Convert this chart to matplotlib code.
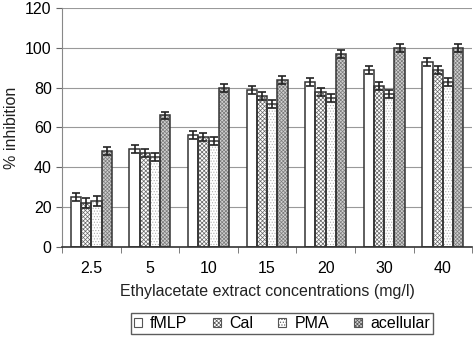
import numpy as np
import matplotlib
matplotlib.use("Agg")
import matplotlib.pyplot as plt

concentrations = ["2.5", "5", "10", "15", "20", "30", "40"]
fmlp = [25, 49, 56, 79, 83, 89, 93]
cal = [22, 47, 55, 76, 78, 81, 89]
pma = [23, 45, 53, 72, 75, 77, 83]
acellular = [48, 66, 80, 84, 97, 100, 100]
fmlp_err = [2, 2, 2, 2, 2, 2, 2]
cal_err = [2.5, 2, 2, 2, 2, 2, 2]
pma_err = [2.5, 2, 2, 2, 2, 2, 2]
acellular_err = [2, 2, 2, 2, 2, 2, 2]

plt.rcParams["font.family"] = ["Liberation Sans", "DejaVu Sans"]
plt.rcParams["hatch.linewidth"] = 0.5

fig = plt.figure(figsize=(4.74, 3.44), dpi=100)
ax = fig.add_axes([0.131, 0.282, 0.865, 0.695])

x = np.arange(len(concentrations))
w = 0.175
series = [
    ("fMLP", fmlp, fmlp_err, "white", None, "#333333"),
    ("Cal", cal, cal_err, "white", "xxxxxxxx", "#666666"),
    ("PMA", pma, pma_err, "white", "......", "#b0b0b0"),
    ("acellular", acellular, acellular_err, "#d0d0d0", "xxxxxxxxx", "#7a7a7a"),
]
for i, (name, vals, err, fc, hatch, hc) in enumerate(series):
    pos = x + (i - 1.5) * w
    ax.bar(pos, vals, w, color=fc, hatch=hatch, edgecolor=hc,
           linewidth=0, label=name, zorder=2)
    ax.bar(pos, vals, w, fill=False, edgecolor="#333333", linewidth=1.1, zorder=3)
    ax.errorbar(pos, vals, yerr=err, fmt="none", ecolor="#222222",
                elinewidth=1.2, capsize=3, capthick=1.2, zorder=4)

ax.set_xlim(-0.5, len(concentrations) - 0.5)
ax.set_ylim(0, 120)
ax.set_yticks(range(0, 121, 20))
ax.yaxis.grid(True, color="#999999", linewidth=0.8, zorder=0)
ax.set_axisbelow(True)
ax.set_xticks(x)
ax.set_xticklabels(concentrations, fontsize=11.5)
ax.set_xticks(np.arange(-0.5, len(concentrations), 1), minor=True)
ax.tick_params(axis="x", which="major", length=0, pad=10)
ax.tick_params(axis="x", which="minor", length=4, color="#666666")
ax.tick_params(axis="y", labelsize=11.5, length=4, color="#666666", direction="out")
for s in ["top", "right"]:
    ax.spines[s].set_visible(False)
ax.spines["left"].set_color("#888888")
ax.spines["bottom"].set_color("#333333")
ax.spines["bottom"].set_linewidth(1.2)

ax.set_ylabel("% inhibition", fontsize=11.5, color="#222222")
ax.set_xlabel("Ethylacetate extract concentrations (mg/l)", fontsize=11.5,
              color="#222222", labelpad=6)

handles = []
for name, vals, err, fc, hatch, hc in series:
    handles.append(plt.Rectangle((0, 0), 1, 1, facecolor=fc, hatch=hatch,
                                 edgecolor="#555555", linewidth=0.8))
leg = fig.legend(handles, [s[0] for s in series], loc="lower center",
                 bbox_to_anchor=(0.595, 0.005), ncol=4, fontsize=11.5,
                 frameon=True, fancybox=False, edgecolor="#333333",
                 handlelength=0.5, handleheight=0.5, handletextpad=0.5,
                 columnspacing=1.6, borderpad=0.2)
leg.get_frame().set_linewidth(1.0)

fig.savefig("out.png", dpi=100)
